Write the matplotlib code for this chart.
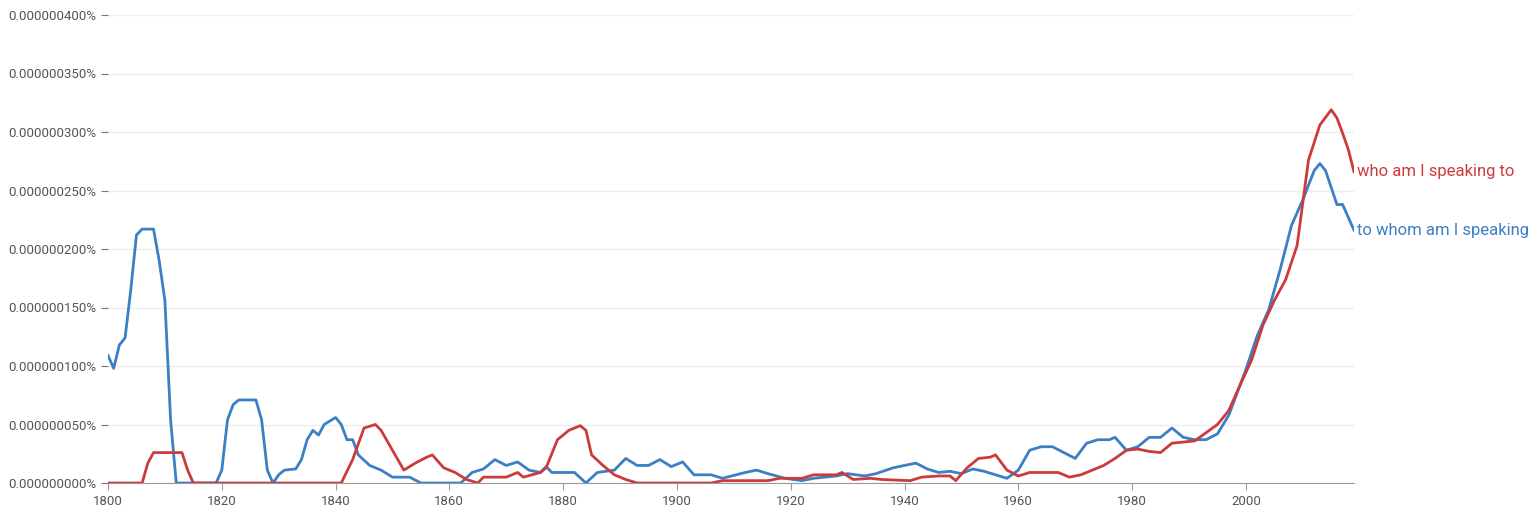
import numpy as np
import matplotlib.pyplot as plt

# values in units of 1e-9 percent
blue_years = [1800, 1801, 1802, 1803, 1804, 1805, 1806, 1808, 1809, 1810, 1811, 1812, 1818, 1819, 1820,
              1821, 1822, 1823, 1826, 1827, 1828, 1829, 1830, 1831, 1833, 1834, 1835, 1836, 1837, 1838,
              1840, 1841, 1842, 1843, 1844, 1846, 1848, 1850, 1853, 1855, 1862, 1864, 1866, 1868, 1870,
              1872, 1874, 1876, 1877, 1878, 1882, 1884, 1886, 1889, 1891, 1893, 1895, 1897, 1899, 1901,
              1903, 1906, 1908, 1912, 1914, 1916, 1919, 1922, 1924, 1928, 1930, 1933, 1935, 1938, 1940,
              1942, 1944, 1946, 1948, 1950, 1952, 1954, 1956, 1958, 1960, 1962, 1964, 1966, 1968, 1970,
              1972, 1974, 1976, 1977, 1979, 1981, 1983, 1985, 1987, 1989, 1991, 1993, 1995, 1997, 2000,
              2002, 2004, 2006, 2008, 2010, 2012, 2013, 2014, 2016, 2017, 2019]
blue_vals = [109, 98, 118, 124, 165, 212, 217, 217, 190, 156, 54, 0, 0, 0, 11,
             54, 67, 71, 71, 54, 11, 0, 7, 11, 12, 20, 37, 45, 41, 50,
             56, 50, 37, 37, 24, 15, 11, 5, 5, 0, 0, 9, 12, 20, 15,
             18, 11, 9, 14, 9, 9, 0, 9, 11, 21, 15, 15, 20, 14, 18,
             7, 7, 4, 9, 11, 8, 4, 2, 4, 6, 8, 6, 8, 13, 15,
             17, 12, 9, 10, 8, 12, 10, 7, 4, 11, 28, 31, 31, 26, 21,
             34, 37, 37, 39, 28, 31, 39, 39, 47, 39, 37, 37, 42, 58, 97,
             126, 148, 182, 220, 242, 267, 273, 267, 238, 238, 216]

red_years = [1800, 1806, 1807, 1808, 1813, 1814, 1815, 1841, 1843, 1845, 1847, 1848, 1850, 1852, 1854,
             1856, 1857, 1859, 1861, 1863, 1865, 1866, 1868, 1870, 1872, 1873, 1876, 1877, 1879, 1881,
             1883, 1884, 1885, 1887, 1889, 1891, 1893, 1906, 1908, 1916, 1918, 1922, 1924, 1928, 1929,
             1931, 1934, 1936, 1941, 1943, 1946, 1948, 1949, 1951, 1953, 1955, 1956, 1958, 1960, 1962,
             1964, 1967, 1969, 1971, 1973, 1975, 1977, 1979, 1981, 1983, 1985, 1987, 1989, 1991, 1993,
             1995, 1997, 1999, 2001, 2003, 2005, 2007, 2009, 2011, 2013, 2015, 2016, 2017, 2018, 2019]
red_vals = [0, 0, 17, 26, 26, 11, 0, 0, 20, 47, 50, 45, 28, 11, 17,
            22, 24, 13, 9, 3, 0, 5, 5, 5, 9, 5, 9, 13, 37, 45,
            49, 45, 24, 15, 7, 3, 0, 0, 2, 2, 4, 4, 7, 7, 9,
            3, 4, 3, 2, 5, 6, 6, 2, 13, 21, 22, 24, 11, 6, 9,
            9, 9, 5, 7, 11, 15, 21, 28, 29, 27, 26, 34, 35, 36, 43,
            50, 62, 84, 105, 135, 156, 174, 203, 276, 306, 319, 312, 299, 285, 266]

y_ticks = [0, 50, 100, 150, 200, 250, 300, 350, 400]
x_ticks = [1800, 1820, 1840, 1860, 1880, 1900, 1920, 1940, 1960, 1980, 2000]

blue = '#3b7fc4'
red = '#cc3b3b'

plt.rcParams['font.family'] = ['Roboto', 'DejaVu Sans']
fig = plt.figure(figsize=(15.36, 5.08), dpi=100)
ax = fig.add_axes([108 / 1536, 25 / 508, 1246 / 1536, 468 / 508])

ax.plot(blue_years, blue_vals, color=blue, lw=2, solid_joinstyle='round')
ax.plot(red_years, red_vals, color=red, lw=2, solid_joinstyle='round')

ax.text(2019.6, red_vals[-1], 'who am I speaking to', color=red, fontsize=12, va='center', clip_on=False)
ax.text(2019.6, blue_vals[-1], 'to whom am I speaking', color=blue, fontsize=12, va='center', clip_on=False)

ax.set_xlim(1800, 2019)
ax.set_ylim(0, 400)
ax.set_yticks(y_ticks)
ax.set_yticklabels([f'{v * 1e-9:.9f}%' for v in y_ticks])
ax.set_xticks(x_ticks)
ax.grid(axis='y', color='#eeeeee', lw=1)
ax.set_axisbelow(True)
for s in ['top', 'right', 'left']:
    ax.spines[s].set_visible(False)
ax.spines['bottom'].set_color('#999999')
ax.tick_params(axis='y', length=5, color='#777777', labelcolor='#555555', labelsize=9.5)
ax.tick_params(axis='x', length=5, color='#999999', labelcolor='#555555', labelsize=9.5)

fig.savefig('out.png')
